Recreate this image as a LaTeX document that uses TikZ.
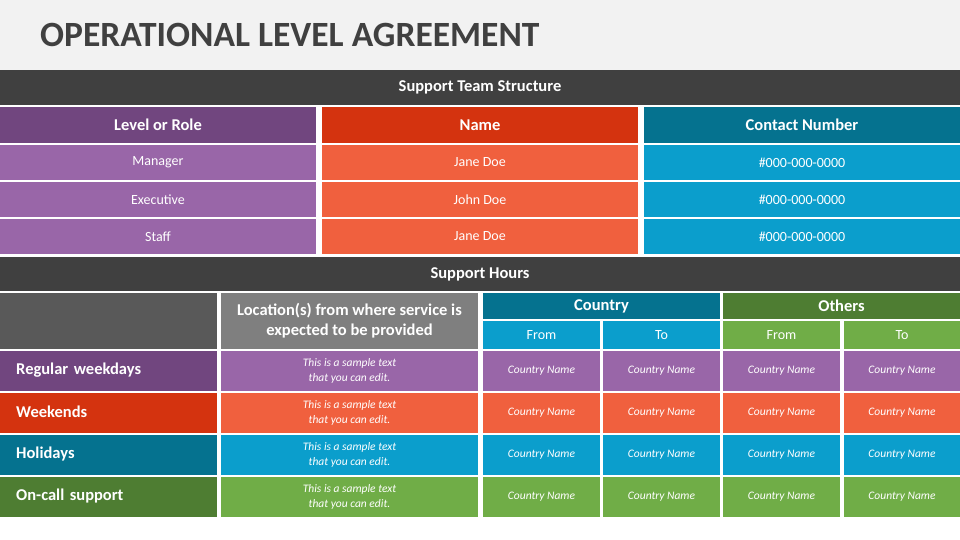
\documentclass[tikz,border=0pt]{standalone}
\usepackage{fontspec}
\setmainfont{Carlito}
\usetikzlibrary{positioning}
\definecolor{bandgray}{HTML}{404040}
\definecolor{pgray}{HTML}{F2F2F2}
\definecolor{gdark}{HTML}{595959}
\definecolor{glight}{HTML}{7F7F7F}
\definecolor{pudark}{HTML}{71467F}
\definecolor{pulight}{HTML}{9966A8}
\definecolor{ordark}{HTML}{D4330F}
\definecolor{orlight}{HTML}{F0603E}
\definecolor{bldark}{HTML}{05728F}
\definecolor{bllight}{HTML}{0B9ECC}
\definecolor{grdark}{HTML}{4E7D32}
\definecolor{grlight}{HTML}{70AD47}
% cell: [options] x1, y1, width, height, colour, name, text
\newcommand{\cellat}[8][]{\node[cellbox,fill=#6,minimum width=#4pt,minimum height=#5pt,#1] (#7) at (#2pt,-#3pt) {#8};}
\begin{document}
\begin{tikzpicture}[x=1pt,y=1pt,
  cellbox/.style={anchor=north west,inner sep=0pt,outer sep=0pt,text=white,align=center,font=\fontsize{14}{16}\selectfont},
  headtxt/.style={font=\fontsize{16.5}{20}\selectfont\bfseries},
  smalltxt/.style={font=\fontsize{11.5}{15}\selectfont\itshape},
  sidetxt/.style={font=\fontsize{16.5}{19}\selectfont\bfseries,text width=195pt,align=left,inner sep=0pt}]
\useasboundingbox (0,0) rectangle (960,-540);
\fill[white] (0,0) rectangle (960,-540);
\fill[pgray] (0,0) rectangle (960,-70);
\node[anchor=west,inner sep=0pt,text=bandgray,font=\fontsize{35.5}{38}\selectfont\bfseries] (title) at (40,-35) {OPERATIONAL LEVEL AGREEMENT};
% support team structure
\cellat[headtxt]{0}{70}{960}{35}{bandgray}{team}{Support Team Structure}
\cellat[headtxt]{0}{107}{316}{36}{pudark}{hrole}{Level or Role}
\cellat[headtxt]{322}{107}{316}{36}{ordark}{hname}{Name}
\cellat[headtxt]{644}{107}{316}{36}{bldark}{hcontact}{Contact Number}
\foreach \y/\role/\who [count=\i] in {145/Manager/Jane Doe,182/Executive/John Doe,219/Staff/Jane Doe}{
  \cellat{0}{\y}{316}{35}{pulight}{role\i}{\role}
  \cellat{322}{\y}{316}{35}{orlight}{name\i}{\who}
  \cellat{644}{\y}{316}{35}{bllight}{contact\i}{\#000-000-0000}
}
% support hours
\cellat[headtxt]{0}{257}{960}{34}{bandgray}{hours}{Support Hours}
\cellat{0}{293}{217}{56}{gdark}{hblank}{}
\cellat[headtxt]{221}{293}{257}{56}{glight}{hloc}{Location(s) from where service is\\expected to be provided}
\cellat[headtxt]{483}{293}{237}{26}{bldark}{hcountry}{Country}
\cellat[headtxt]{723}{293}{237}{26}{grdark}{hothers}{Others}
\cellat{483}{321}{117}{28}{bllight}{cfrom}{From}
\cellat{603}{321}{117}{28}{bllight}{cto}{To}
\cellat{723}{321}{117}{28}{grlight}{ofrom}{From}
\cellat{844}{321}{116}{28}{grlight}{oto}{To}
\foreach \y/\lab/\dk/\lt [count=\i] in {351/Regular weekdays/pudark/pulight,393/Weekends/ordark/orlight,435/Holidays/bldark/bllight,477/On-call support/grdark/grlight}{
  \cellat{0}{\y}{217}{40}{\dk}{side\i}{}
  \node[sidetxt,text=white,anchor=west] (lab\i) at (16,-\y-19) {\lab};
  \cellat[smalltxt]{221}{\y}{257}{40}{\lt}{loc\i}{This is a sample text\\that you can edit.}
  \foreach \x/\w/\c in {483/117/a,603/117/b,723/117/c,844/116/d}{
    \cellat[smalltxt]{\x}{\y}{\w}{40}{\lt}{cn\i\c}{Country Name}
  }
}
\end{tikzpicture}
\end{document}
